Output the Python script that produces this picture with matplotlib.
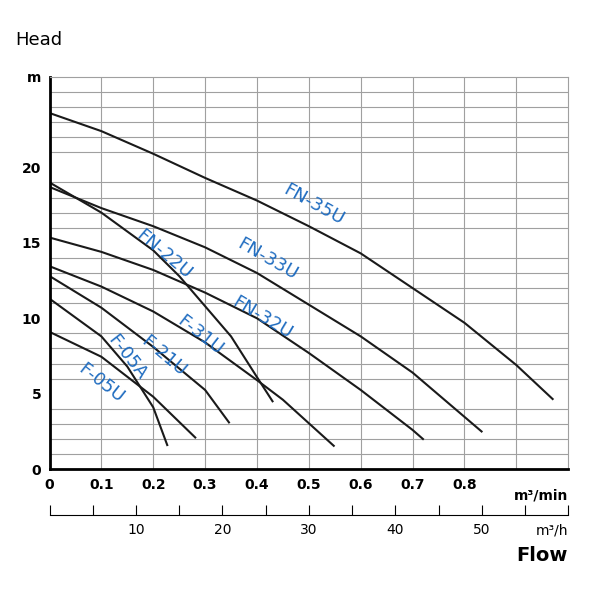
import numpy as np
import matplotlib.pyplot as plt

# pump curves: flow (m3/min) vs head (m)
fn35_q = [0, 0.1, 0.2, 0.3, 0.4, 0.5, 0.6, 0.7, 0.8, 0.9, 0.97]
fn35_h = [23.6, 22.4, 20.9, 19.3, 17.8, 16.1, 14.3, 12.0, 9.7, 6.9, 4.65]
fn33_q = [0, 0.1, 0.2, 0.3, 0.4, 0.5, 0.6, 0.7, 0.833]
fn33_h = [18.7, 17.3, 16.1, 14.7, 13.0, 10.9, 8.8, 6.4, 2.5]
fn22_q = [0, 0.1, 0.2, 0.25, 0.3, 0.35, 0.4, 0.43]
fn22_h = [19.0, 17.0, 14.5, 12.8, 10.8, 8.8, 6.1, 4.5]
fn32_q = [0, 0.1, 0.2, 0.3, 0.4, 0.5, 0.6, 0.7, 0.72]
fn32_h = [15.35, 14.4, 13.2, 11.7, 10.0, 7.7, 5.25, 2.6, 2.0]
f31_q = [0, 0.1, 0.2, 0.3, 0.4, 0.45, 0.548]
f31_h = [13.45, 12.1, 10.45, 8.4, 5.9, 4.6, 1.55]
f21_q = [0, 0.1, 0.2, 0.3, 0.346]
f21_h = [12.8, 10.7, 8.1, 5.25, 3.1]
f05a_q = [0, 0.1, 0.15, 0.2, 0.227]
f05a_h = [11.3, 8.8, 6.8, 4.1, 1.6]
f05u_q = [0, 0.1, 0.2, 0.281]
f05u_h = [9.1, 7.45, 4.8, 2.1]

curves = [(fn35_q, fn35_h), (fn33_q, fn33_h), (fn22_q, fn22_h), (fn32_q, fn32_h),
          (f31_q, f31_h), (f21_q, f21_h), (f05a_q, f05a_h), (f05u_q, f05u_h)]

# curve labels: name, x, y, rotation
label_names = ["FN-35U", "FN-33U", "FN-22U", "FN-32U", "F-31U", "F-21U", "F-05A", "F-05U"]
label_x = [0.51, 0.42, 0.22, 0.41, 0.29, 0.22, 0.15, 0.10]
label_y = [17.5, 13.9, 14.2, 10.0, 8.9, 7.5, 7.4, 5.7]
label_rot = [-29, -30, -40, -31, -38, -40, -52, -38]

blue = "#1f6cc0"

fig = plt.figure(figsize=(6, 6), dpi=100)
ax = fig.add_axes([0.0825, 0.218, 0.8645, 0.654])

for q, h in curves:
    ax.plot(q, h, color="#1a1a1a", lw=1.5)
for name, x, y, r in zip(label_names, label_x, label_y, label_rot):
    ax.text(x, y, name, color=blue, fontsize=13, rotation=r, ha="center", va="center")

ax.set_xlim(0, 1.0)
ax.set_ylim(0, 26)
ax.set_xticks(np.arange(0, 0.95, 0.1))
ax.set_xticklabels(["0", "0.1", "0.2", "0.3", "0.4", "0.5", "0.6", "0.7", "0.8", ""],
                   fontweight="bold", fontsize=10)
ax.set_yticks([0, 5, 10, 15, 20, 26])
ax.set_yticklabels(["0", "5", "10", "15", "20", "m"], fontweight="bold", fontsize=10)
ax.set_xticks(np.arange(0, 1.0, 0.1), minor=True)
ax.set_yticks(np.arange(0, 26, 1), minor=True)
ax.grid(which="minor", color="#a0a0a0", lw=0.8)
ax.grid(which="major", axis="x", color="#a0a0a0", lw=0.8)
ax.tick_params(length=0, pad=6)
ax.tick_params(which="minor", length=0)
for s in ["left", "bottom"]:
    ax.spines[s].set_linewidth(2)
for s in ["top", "right"]:
    ax.spines[s].set_color("#a0a0a0")
ax.text(1.0, -1.3, "m³/min", ha="right", va="top", fontweight="bold", fontsize=10)

# secondary flow axis in m3/h
ax2 = fig.add_axes([0.0825, 0.142, 0.8645, 0.001])
ax2.set_xlim(0, 60)
ax2.set_yticks([])
for s in ["top", "right", "left"]:
    ax2.spines[s].set_visible(False)
ax2.set_xticks(np.arange(0, 61, 5))
ax2.set_xticklabels(["", "", "10", "", "20", "", "30", "", "40", "", "50", "", "m³/h"],
                    fontsize=10)
ax2.tick_params(direction="in", length=7, pad=6)
ax2.xaxis.get_majorticklabels()[-1].set_ha("right")

fig.text(0.025, 0.925, "Head", fontsize=13)
fig.text(0.86, 0.065, "Flow", fontsize=14, fontweight="bold")

fig.savefig("out.png", dpi=100)
